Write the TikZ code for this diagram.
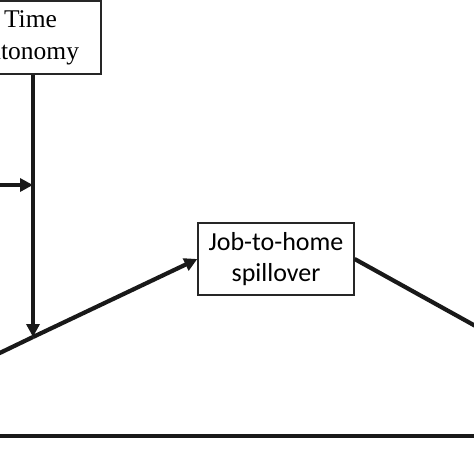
\documentclass[tikz,border=0pt]{standalone}
\usepackage{fontspec}
\setmainfont{Liberation Serif}
\newfontfamily\calib{Carlito}
\usetikzlibrary{arrows.meta,calc}
\begin{document}
\begin{tikzpicture}[x=1pt,y=-1pt,
  boxstyle/.style={draw=black!85,line width=1.3pt,fill=white,align=center,inner sep=0pt},
  conn/.style={line width=4.2pt,draw=black!90},
  tip/.style={-{Triangle[length=13pt,width=13pt]}}]
\useasboundingbox (0,0) rectangle (474,474);
\node[boxstyle,minimum width=153pt,minimum height=73pt,
  font=\fontsize{25.5pt}{32pt}\selectfont] (t) at (24.5,37.5) {\hspace*{12pt}Time\\Autonomy};
\node[boxstyle,minimum width=156pt,minimum height=72pt,
  font=\calib\fontsize{26pt}{31pt}\selectfont] (j) at (276,259) {Job-to-home\\spillover};
\coordinate (L) at (-20,362.5);
\coordinate (m) at (33,337);
\coordinate (h0) at (-20,185);
\coordinate (R) at (500,339.6);
\coordinate (B0) at (-20,436);
\coordinate (B1) at (500,436);
\draw[conn] (L) -- (m);
\draw[conn,tip] (m) -- (j.west);
\draw[conn,tip] (t.south -| m) -- (m);
\draw[conn,tip] (h0) -- (h0 -| m);
\draw[conn] (j.east) -- (R);
\draw[conn] (B0) -- (B1);
\end{tikzpicture}
\end{document}
